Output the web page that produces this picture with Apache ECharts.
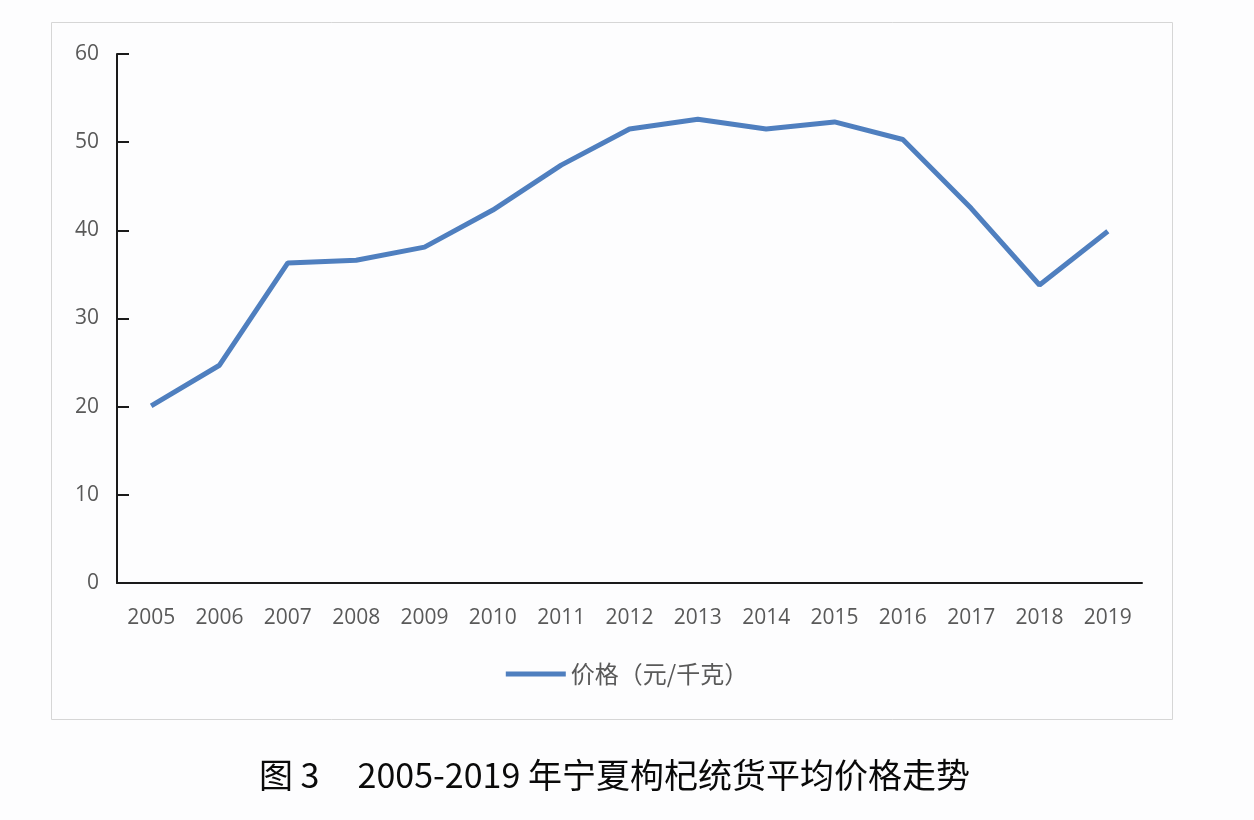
<!DOCTYPE html>
<html>
<head>
<meta charset="utf-8">
<script src="https://cdn.jsdelivr.net/npm/echarts@6/dist/echarts.min.js"></script>
<style>
  html, body { margin: 0; padding: 0; background: #fdfdfe; }
  #chart { width: 1254px; height: 820px; }
</style>
</head>
<body>
<div id="chart"></div>
<script>
const years = ['2005', '2006', '2007', '2008', '2009', '2010', '2011', '2012', '2013', '2014', '2015', '2016', '2017', '2018', '2019'];
const prices = [20.1, 24.7, 36.3, 36.6, 38.1, 42.3, 47.4, 51.5, 52.6, 51.5, 52.3, 50.3, 42.5, 33.8, 39.9];
const seriesName = '价格（元/千克）';
const caption = '图 3     2005-2019 年宁夏枸杞统货平均价格走势';

const chart = echarts.init(document.getElementById('chart'));
const axisColor = '#1a1a1a';
const labelColor = '#595959';

chart.setOption({
  backgroundColor: '#fdfdfe',
  animation: false,
  graphic: [
    {
      type: 'rect',
      shape: { x: 51.5, y: 22.5, width: 1121, height: 697 },
      style: { fill: 'none', stroke: '#d6d6d6', lineWidth: 1 },
      z: -1
    }
  ],
  title: {
    text: caption,
    left: 254,
    top: 753,
    textStyle: {
      fontFamily: 'Noto Sans CJK SC',
      fontSize: 34,
      fontWeight: 'normal',
      color: '#0a0a0a'
    }
  },
  legend: {
    data: [seriesName],
    left: 'center',
    top: 657,
    icon: 'rect',
    itemWidth: 60,
    itemHeight: 5,
    itemGap: 8,
    textStyle: {
      fontFamily: 'Noto Sans CJK SC',
      fontSize: 24,
      color: labelColor
    }
  },
  grid: {
    left: 117,
    right: 112,
    top: 54,
    bottom: 237
  },
  xAxis: {
    type: 'category',
    data: years,
    boundaryGap: true,
    axisLine: { lineStyle: { color: axisColor, width: 2 } },
    axisTick: { inside: true, length: 9, lineStyle: { color: axisColor, width: 2 } },
    axisLabel: {
      margin: 25,
      fontFamily: 'Open Sans',
      fontSize: 21,
      color: labelColor
    }
  },
  yAxis: {
    type: 'value',
    min: 0,
    max: 60,
    interval: 10,
    splitLine: { show: false },
    axisLine: { show: true, lineStyle: { color: axisColor, width: 2 } },
    axisTick: { show: true, inside: true, length: 12, lineStyle: { color: axisColor, width: 2 } },
    axisLabel: {
      margin: 18,
      fontFamily: 'Open Sans',
      fontSize: 21,
      color: labelColor
    }
  },
  series: [
    {
      name: seriesName,
      type: 'line',
      data: prices,
      showSymbol: false,
      symbol: 'none',
      lineStyle: { color: '#4f7fbf', width: 5 },
      itemStyle: { color: '#4f7fbf' }
    }
  ]
});
</script>
</body>
</html>
